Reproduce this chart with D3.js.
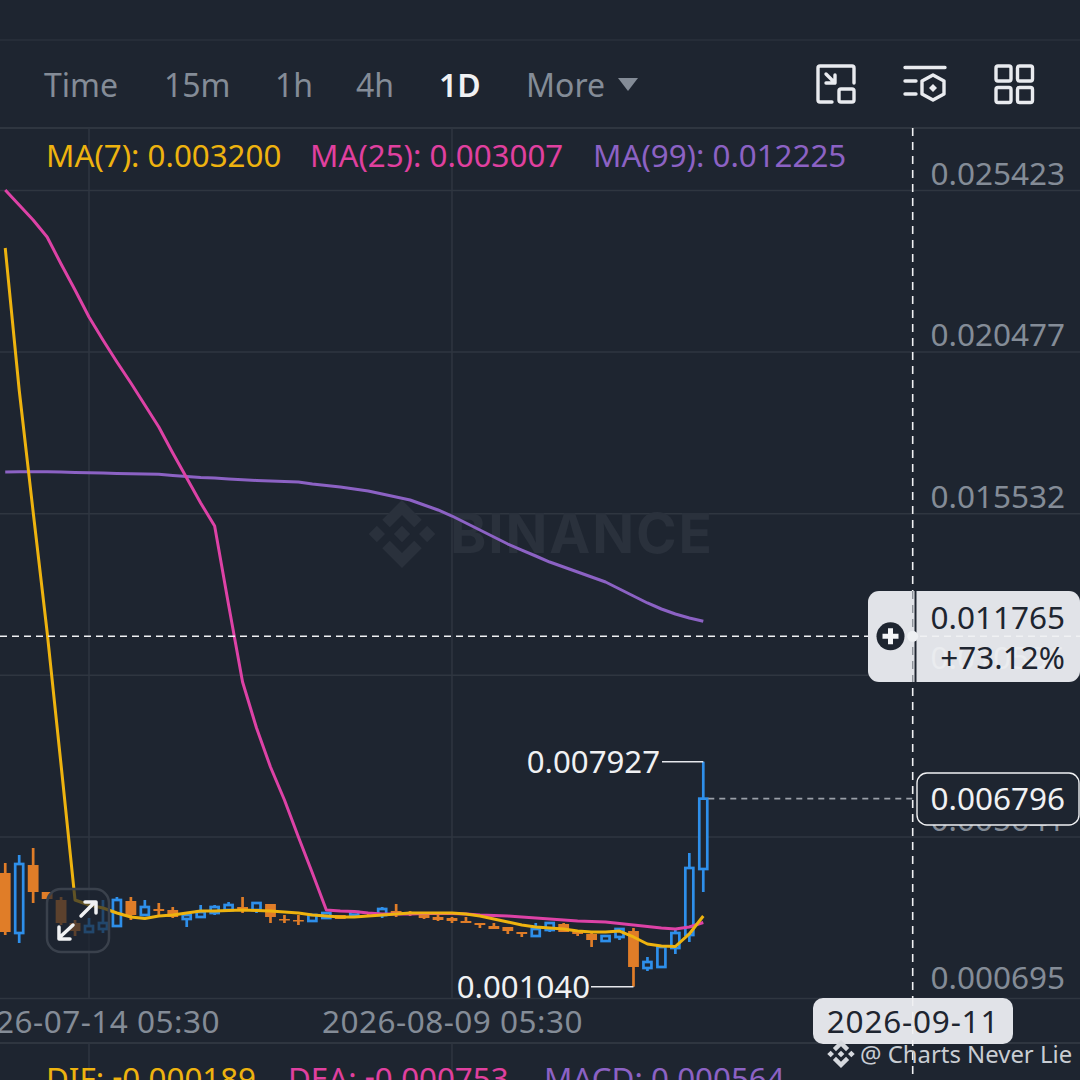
<!DOCTYPE html>
<html lang="en">
<head>
  <meta charset="UTF-8">
  <title>D3.js</title>
  <style>
    html, body { margin: 0; padding: 0; background: #1e2530; overflow: hidden; }
    svg { display: block; }
    text { font-family: "Noto Sans", sans-serif; }
  </style>
</head>
<body>
  <script src="https://d3js.org/d3.v7.min.js"></script>
  <script>
    // one candle per day, first one is 2026-07-08
    let firstDay = "2026-07-08T05:30:00Z";

    let opens = [.004521,.002684,.004765,.003939,.003694,.002990,.002715,.002807,.002898,.003664,.003235,.003419,.003388,.003113,.003174,.003296,.003388,.003480,.003388,.003572,.003113,.003082,.003052,.003143,.003235,.003235,.003327,.003235,.003358,.003296,.003235,.003174,.003143,.003052,.002990,.002898,.002868,.002715,.002592,.002776,.002960,.002776,.002654,.002439,.002562,.002745,.001613,.001644,.002225,.002623,.004643];
    let closes = [.002715,.004796,.003939,.003725,.002990,.002745,.002898,.002990,.003694,.003235,.003480,.003358,.003174,.003235,.003327,.003480,.003541,.003388,.003602,.003174,.003082,.003052,.003235,.003296,.003113,.003327,.003266,.003419,.003235,.003235,.003143,.003082,.003052,.002990,.002929,.002807,.002745,.002654,.002807,.002990,.002715,.002654,.002470,.002592,.002807,.001644,.001797,.002256,.002684,.004674,.006796];
    let highs = [.004827,.005071,.005286,.003939,.003786,.003082,.003143,.003694,.003786,.003786,.003694,.003602,.003480,.003235,.003541,.003541,.003633,.003786,.003602,.003572,.003235,.003235,.003235,.003296,.003235,.003327,.003327,.003480,.003572,.003358,.003235,.003235,.003174,.003174,.002990,.002990,.002868,.002715,.002990,.002990,.002990,.002776,.002715,.002592,.002837,.002837,.001950,.002256,.002776,.005133,.007927];
    let lows = [.002623,.002378,.003602,.003725,.002929,.002592,.002715,.002684,.002868,.003082,.003235,.003205,.003143,.002868,.003143,.003235,.003327,.003296,.003296,.002990,.002990,.002929,.003052,.003143,.003113,.003235,.003235,.003143,.003174,.003205,.003113,.003052,.002990,.002990,.002837,.002807,.002654,.002562,.002592,.002715,.002715,.002592,.002256,.002439,.002470,.001040,.001521,.001644,.002042,.002409,.003939];

    let ma7 = [.023648,.019302,.015569,.011896,.007826,.003694,.003541,.003449,.003296,.003174,.003128,.003205,.003235,.003296,.003358,.003358,.003373,.003388,.003373,.003358,.003327,.003296,.003235,.003205,.003174,.003174,.003205,.003235,.003266,.003296,.003296,.003296,.003296,.003266,.003205,.003113,.003021,.002929,.002868,.002837,.002807,.002745,.002715,.002715,.002745,.002562,.002348,.002286,.002271,.002654,.003205];
    let ma25 = [.025423,.024964,.024505,.023985,.023158,.022363,.021536,.020832,.020159,.019516,.018843,.018170,.017374,.016609,.015844,.015140,.012722,.010366,.008958,.007765,.006755,.005622,.004521,.003388,.003358,.003342,.003296,.003266,.003266,.003266,.003281,.003281,.003281,.003266,.003235,.003220,.003205,.003174,.003143,.003113,.003082,.003052,.003037,.003021,.002975,.002929,.002883,.002837,.002807,.002868,.003007];
    let ma99 = [.016793,.016800,.016800,.016798,.016790,.016780,.016770,.016760,.016750,.016740,.016732,.016723,.016686,.016656,.016625,.016609,.016579,.016554,.016533,.016518,.016502,.016487,.016426,.016380,.016334,.016273,.016211,.016119,.016028,.015936,.015783,.015630,.015446,.015232,.015017,.014803,.014589,.014405,.014222,.014038,.013885,.013732,.013579,.013426,.013212,.012998,.012784,.012600,.012447,.012325,.012225];

    let yTicks = [0.025423, 0.020477, 0.015532, 0.010586, 0.005641, 0.000695];
    let xTicks = ["2026-07-14T05:30:00Z", "2026-08-09T05:30:00Z"];
    let tabs = ["Time", "15m", "1h", "4h", "1D", "More"];
    let tabX = [44, 164, 275, 356, 439, 526];

    let highLabel = 0.007927, lowLabel = 0.001040, lastPrice = 0.006796;
    let crossPrice = 0.011765, crossDate = "2026-09-11T05:30:00Z", crossPct = "+73.12%";
    let legend = [["MA(7): 0.003200", 46, "#eeb30f"], ["MA(25): 0.003007", 310, "#e0409f"], ["MA(99): 0.012225", 593, "#8c62c4"]];
    let macdLegend = [["DIF: -0.000189", 46, "#eeb30f"], ["DEA: -0.000753", 288, "#e0409f"], ["MACD: 0.000564", 544, "#8c62c4"]];

    let bg = "#1e2530", grid = "#2f3640", up = "#2e8fea", down = "#e07d28";
    let light = "#e1e3e8", grey = "#848c97";
    let fontSize = 31.5;

    let dates = opens.map((d, i) => d3.utcDay.offset(new Date(firstDay), i));

    let x = d3.scaleUtc().domain([new Date(xTicks[0]), new Date(crossDate)]).range([89, 912.7]);
    let y = d3.scaleLinear().domain([0.000695, 0.025423]).range([998, 190]);

    let svg = d3.select("body").append("svg").attr("width", 1080).attr("height", 1080);

    // frame lines
    [40, 128, 1043].forEach(v => {
      svg.append("line").attr("x1", 0).attr("x2", 1080).attr("y1", v).attr("y2", v)
        .attr("stroke", grid).attr("stroke-width", v == 40 ? 1 : 2);
    });

    // toolbar
    svg.selectAll(".tab").data(tabs).join("text").attr("class", "tab")
      .attr("x", (d, i) => tabX[i]).attr("y", 97)
      .attr("font-size", 32)
      .attr("font-weight", d => d == "1D" ? 600 : 400)
      .attr("fill", d => d == "1D" ? "#f0f1f3" : grey)
      .text(d => d);
    svg.append("path").attr("d", "M618 78 H638 L628 91 Z").attr("fill", grey);

    let icons = svg.append("g").attr("fill", "none").attr("stroke", "#e9ebef").attr("stroke-width", 3.4)
      .attr("stroke-linecap", "round").attr("stroke-linejoin", "round");
    icons.append("path").attr("d", "M832 102 H820 Q818 102 818 100 V68 Q818 66 820 66 H852 Q854 66 854 68 V83");
    icons.append("rect").attr("x", 839).attr("y", 89).attr("width", 15).attr("height", 13).attr("rx", 2);
    icons.append("path").attr("d", "M826 74 L835 83 M826 83 H835 V75");
    icons.append("path").attr("d", "M905 67.5 H945 M905 81 H916 M905 94 H916");
    icons.append("path").attr("d", "M933 75 L944 81 V94 L933 100 L922 94 V81 Z");
    icons.append("path").attr("d", "M933 84 L937 88 L933 92 L929 88 Z").attr("fill", "#e9ebef").attr("stroke", "none");
    [[996, 66], [1017.5, 66], [996, 87.5], [1017.5, 87.5]].forEach(p => {
      icons.append("rect").attr("x", p[0]).attr("y", p[1]).attr("width", 15).attr("height", 15).attr("rx", 2);
    });

    // grid and axes
    xTicks.forEach(t => {
      svg.append("line").attr("x1", x(new Date(t))).attr("x2", x(new Date(t))).attr("y1", 128).attr("y2", 998).attr("stroke", grid).attr("stroke-width", 1.5);
      svg.append("line").attr("x1", x(new Date(t))).attr("x2", x(new Date(t))).attr("y1", 1043).attr("y2", 1080).attr("stroke", grid).attr("stroke-width", 1.5);
    });

    let yAxis = svg.append("g").call(d3.axisRight(y).tickValues(yTicks).tickFormat(d3.format(".6f")).tickSize(1080));
    yAxis.select(".domain").remove();
    yAxis.selectAll("line").attr("stroke", grid).attr("stroke-width", 1.5);
    yAxis.selectAll("text").attr("x", 1065).attr("dy", d => d == yTicks[5] ? -10 : -6).attr("text-anchor", "end")
      .attr("font-size", fontSize).attr("font-family", '"Noto Sans", sans-serif').attr("fill", grey);

    let xAxis = svg.append("g").attr("transform", "translate(0,998)")
      .call(d3.axisBottom(x).tickValues(xTicks.map(d => new Date(d))).tickFormat(d3.utcFormat("%Y-%m-%d %H:%M")).tickSize(0));
    xAxis.select(".domain").remove();
    xAxis.selectAll("text").attr("y", 35).attr("dy", 0).attr("letter-spacing", .5)
      .attr("font-size", fontSize).attr("font-family", '"Noto Sans", sans-serif').attr("fill", grey);

    // watermark
    function binanceLogo(g, cx, cy, s, color) {
      let top = [[0, -1], [-.58, -.42], [-.36, -.2], [0, -.56], [.36, -.2], [.58, -.42]];
      let bottom = top.map(p => [p[0], -p[1]]);
      [top, bottom].forEach(pts => {
        g.append("polygon").attr("points", pts.map(p => (cx + p[0] * s) + "," + (cy + p[1] * s)).join(" ")).attr("fill", color);
      });
      [[0, 0], [-.74, 0], [.74, 0]].forEach(p => {
        let r = .24 * s;
        let c = [cx + p[0] * s, cy + p[1] * s];
        g.append("polygon").attr("points", [[0, -r], [r, 0], [0, r], [-r, 0]].map(q => (c[0] + q[0]) + "," + (c[1] + q[1])).join(" ")).attr("fill", color);
      });
    }
    binanceLogo(svg.append("g"), 402, 534, 34, "#2a313c");
    svg.append("text").attr("x", 450).attr("y", 553).attr("font-size", 55).attr("font-weight", 700)
      .style("font-family", "Inter, sans-serif")
      .attr("textLength", 262).attr("fill", "#2a313c").text("BINANCE");

    // candles
    let candle = svg.append("g").selectAll("g").data(dates).join("g");
    let isUp = i => closes[i] >= opens[i];
    let color = i => isUp(i) ? up : down;

    candle.append("line")
      .attr("x1", d => x(d)).attr("x2", d => x(d))
      .attr("y1", (d, i) => y(highs[i])).attr("y2", (d, i) => y(Math.max(opens[i], closes[i])))
      .attr("stroke", (d, i) => color(i)).attr("stroke-width", 2.7);
    candle.append("line")
      .attr("x1", d => x(d)).attr("x2", d => x(d))
      .attr("y1", (d, i) => y(Math.min(opens[i], closes[i]))).attr("y2", (d, i) => y(lows[i]))
      .attr("stroke", (d, i) => color(i)).attr("stroke-width", 2.7);
    candle.append("rect")
      .attr("x", (d, i) => x(d) - (isUp(i) ? 4 : 5.4))
      .attr("width", (d, i) => isUp(i) ? 8 : 10.8)
      .attr("y", (d, i) => y(Math.max(opens[i], closes[i])))
      .attr("height", (d, i) => Math.max(1.5, Math.abs(y(opens[i]) - y(closes[i]))))
      .attr("fill", (d, i) => isUp(i) ? bg : down)
      .attr("stroke", (d, i) => isUp(i) ? up : "none")
      .attr("stroke-width", 2.7);

    // moving averages
    let line = d3.line().x((d, i) => x(dates[i])).y(d => y(d));
    [[ma99, "#8c62c4"], [ma25, "#dd42a6"], [ma7, "#eeb30f"]].forEach(s => {
      svg.append("path").attr("d", line(s[0])).attr("fill", "none").attr("stroke", s[1]).attr("stroke-width", 3).attr("stroke-linejoin", "round");
    });

    // legends
    svg.selectAll(".legend").data(legend.concat(macdLegend)).join("text").attr("class", "legend")
      .attr("x", d => d[1]).attr("y", (d, i) => i < 3 ? 167 : 1090)
      .attr("font-size", 31.3).attr("fill", d => d[2])
      .each(function(d) {
        // the minus sits a bit higher in the reference, else the page edge eats it
        let parts = d[0].split("-");
        if (parts.length == 1) { d3.select(this).text(d[0]); return; }
        d3.select(this).append("tspan").text(parts[0]);
        d3.select(this).append("tspan").attr("dy", -3).text("-");
        d3.select(this).append("tspan").attr("dy", 3).text(parts[1]);
      });

    // high / low labels
    let lastX = x(dates[dates.length - 1]);
    let lowX = x(dates[lows.indexOf(lowLabel)]);
    svg.append("path").attr("d", "M662 " + y(highLabel) + " H" + lastX).attr("stroke", "#e6e8ec").attr("stroke-width", 1.6).attr("fill", "none");
    svg.append("text").attr("x", 660).attr("y", y(highLabel) + 11).attr("text-anchor", "end").attr("font-size", 31.2).attr("fill", "#f0f1f3").text(d3.format(".6f")(highLabel));
    svg.append("path").attr("d", "M591 " + y(lowLabel) + " H" + lowX).attr("stroke", "#e6e8ec").attr("stroke-width", 1.6).attr("fill", "none");
    svg.append("text").attr("x", 590).attr("y", y(lowLabel) + 11).attr("text-anchor", "end").attr("font-size", 31.2).attr("fill", "#f0f1f3").text(d3.format(".6f")(lowLabel));

    // last price line and tag
    svg.append("line").attr("x1", lastX + 5).attr("x2", 917).attr("y1", y(lastPrice)).attr("y2", y(lastPrice))
      .attr("stroke", "#9aa0a8").attr("stroke-width", 1.6).attr("stroke-dasharray", "6 5");
    svg.append("rect").attr("x", 917).attr("y", 773).attr("width", 162).attr("height", 52).attr("rx", 10)
      .attr("fill", bg).attr("stroke", "#f0f1f3").attr("stroke-width", 1.4);
    svg.append("text").attr("x", 1065).attr("y", 810).attr("text-anchor", "end").attr("font-size", fontSize).attr("fill", "#f0f1f3").text(d3.format(".6f")(lastPrice));

    // expand button
    let btn = svg.append("g");
    btn.append("rect").attr("x", 47).attr("y", 889).attr("width", 62).attr("height", 63).attr("rx", 14)
      .attr("fill", bg).attr("fill-opacity", .68).attr("stroke", "#3a414c").attr("stroke-width", 2.5);
    btn.append("path").attr("d", "M81 916 L95 902 M85 902 H96 V913 M73 925 L59 938 M59 927 V939 H70")
      .attr("fill", "none").attr("stroke", "#f0f1f3").attr("stroke-width", 3.5).attr("stroke-linecap", "round").attr("stroke-linejoin", "round");

    // crosshair
    let cx = x(new Date(crossDate)), cy = y(crossPrice);
    svg.append("line").attr("x1", 0).attr("x2", 870).attr("y1", cy).attr("y2", cy)
      .attr("stroke", "#f0f1f3").attr("stroke-width", 1.6).attr("stroke-dasharray", "7 5");
    svg.append("line").attr("x1", cx).attr("x2", cx).attr("y1", 128).attr("y2", 1080)
      .attr("stroke", "#f0f1f3").attr("stroke-width", 1.6).attr("stroke-dasharray", "8 6");

    svg.append("rect").attr("x", 868).attr("y", 591).attr("width", 212).attr("height", 91).attr("rx", 11).attr("fill", light);
    svg.append("line").attr("x1", 915.5).attr("x2", 915.5).attr("y1", 591).attr("y2", 682).attr("stroke", bg).attr("stroke-width", 2);
    svg.append("line").attr("x1", cx).attr("x2", cx).attr("y1", 591).attr("y2", 682).attr("stroke", "#8f949b").attr("stroke-width", 1.4).attr("stroke-dasharray", "8 6");
    svg.append("line").attr("x1", 920).attr("x2", 1080).attr("y1", cy).attr("y2", cy).attr("stroke", "#f0f1f3").attr("stroke-width", 1.4).attr("stroke-dasharray", "7 5");
    svg.append("circle").attr("cx", cx).attr("cy", cy).attr("r", 5.5).attr("fill", "#eef0f3");
    svg.append("circle").attr("cx", 890.5).attr("cy", cy).attr("r", 14).attr("fill", bg);
    svg.append("path").attr("d", "M890.5 " + (cy - 8) + " V" + (cy + 8) + " M882.5 " + cy + " H898.5").attr("stroke", "#f4f5f7").attr("stroke-width", 5);
    svg.append("text").attr("x", 1065).attr("y", y(yTicks[3]) - 6).attr("text-anchor", "end").attr("font-size", fontSize)
      .attr("fill", "#eaecef").text(d3.format(".6f")(yTicks[3]));
    svg.append("text").attr("x", 1065).attr("y", 629).attr("text-anchor", "end").attr("font-size", fontSize).attr("fill", bg).text(d3.format(".6f")(crossPrice));
    svg.append("text").attr("x", 1065).attr("y", 669).attr("text-anchor", "end").attr("font-size", fontSize).attr("fill", bg).text(crossPct);

    // date tag
    svg.append("rect").attr("x", 813).attr("y", 998).attr("width", 200).attr("height", 46).attr("rx", 10).attr("fill", light);
    svg.append("line").attr("x1", cx).attr("x2", cx).attr("y1", 998).attr("y2", 1044).attr("stroke", "#f0f1f3").attr("stroke-width", 1.4).attr("stroke-dasharray", "8 6");
    svg.append("text").attr("x", 913).attr("y", 1033).attr("text-anchor", "middle").attr("font-size", fontSize).attr("letter-spacing", .8).attr("fill", bg)
      .text(d3.utcFormat("%Y-%m-%d")(new Date(crossDate)));

    // footer mark
    binanceLogo(svg.append("g"), 841, 1054, 14, "#d6d9de");
    svg.append("text").attr("x", 860).attr("y", 1063).attr("font-size", 23.9).attr("fill", "#c9cdd3").text("@ Charts Never Lie");
  </script>
</body>
</html>
